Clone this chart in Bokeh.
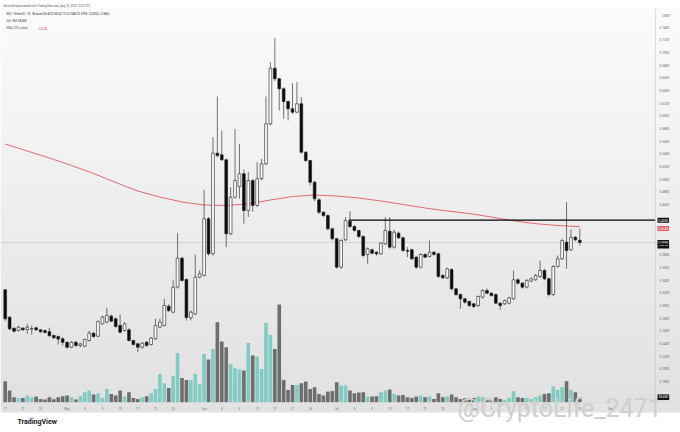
from datetime import date
import numpy as np
from bokeh.plotting import figure
from bokeh.models import (Range1d, FixedTicker, Label, BoxAnnotation,
                          ColumnDataSource, NumeralTickFormatter)
from bokeh.embed import file_html
from bokeh.resources import INLINE

# ---------------- data (NUI / TetherUS, 1D, Binance) ----------------
start_date = date(2025, 4, 17)

opens = [0.3250, 0.2817, 0.2643, 0.2606, 0.2643, 0.2622, 0.2630, 0.2649, 0.2617, 0.2606,
         0.2586, 0.2527, 0.2512, 0.2475, 0.2421, 0.2342, 0.2421, 0.2369, 0.2358, 0.2448,
         0.2564, 0.2516, 0.2712, 0.2738, 0.2833, 0.2791, 0.2685, 0.2606, 0.2617, 0.2448,
         0.2396, 0.2342, 0.2421, 0.2385, 0.2475, 0.2660, 0.2685, 0.2990, 0.2896, 0.3291,
         0.3749, 0.3412, 0.2807, 0.2870, 0.3449, 0.3476, 0.4372, 0.3819, 0.5409, 0.5383,
         0.5304, 0.4135, 0.4713, 0.4880, 0.5083, 0.4503, 0.4977, 0.4582, 0.5004, 0.5241,
         0.5873, 0.6752, 0.6585, 0.6427, 0.6226, 0.6110, 0.6057, 0.6189, 0.5424, 0.5293,
         0.4950, 0.4672, 0.4476, 0.4424, 0.4214, 0.4056, 0.3607, 0.4040, 0.4334, 0.4250,
         0.4187, 0.4092, 0.3807, 0.3882, 0.3844, 0.3818, 0.3976, 0.4176, 0.3923, 0.4144,
         0.4071, 0.3871, 0.3882, 0.3765, 0.3607, 0.3808, 0.3776, 0.3844, 0.3818, 0.3476,
         0.3439, 0.3570, 0.3265, 0.3175, 0.3107, 0.3065, 0.3028, 0.3001, 0.3133, 0.3238,
         0.3196, 0.3175, 0.3038, 0.3028, 0.3038, 0.3107, 0.3408, 0.3355, 0.3291, 0.3386,
         0.3408, 0.3460, 0.3555, 0.3424, 0.3175, 0.3618, 0.3740, 0.4002, 0.3882, 0.4081,
         0.4032]

highs = [0.3260, 0.2830, 0.2650, 0.2680, 0.2660, 0.2712, 0.2685, 0.2665, 0.2630, 0.2620,
         0.2650, 0.2540, 0.2525, 0.2500, 0.2430, 0.2435, 0.2440, 0.2410, 0.2480, 0.2600,
         0.2580, 0.2764, 0.2840, 0.2965, 0.2860, 0.2810, 0.2860, 0.2740, 0.2640, 0.2460,
         0.2410, 0.2420, 0.2440, 0.2500, 0.2791, 0.2790, 0.3107, 0.3020, 0.3408, 0.4144,
         0.3770, 0.3430, 0.2922, 0.3808, 0.3560, 0.4830, 0.4400, 0.5661, 0.6305, 0.5767,
         0.5320, 0.4871, 0.5794, 0.5557, 0.5150, 0.5109, 0.5000, 0.5267, 0.5320, 0.6305,
         0.6847, 0.7232, 0.6600, 0.6450, 0.6240, 0.6515, 0.6531, 0.6294, 0.5440, 0.5300,
         0.4970, 0.4700, 0.4490, 0.4440, 0.4230, 0.4070, 0.4050, 0.4397, 0.4492, 0.4270,
         0.4200, 0.4110, 0.3920, 0.3900, 0.3860, 0.4000, 0.4397, 0.4397, 0.4200, 0.4170,
         0.4090, 0.3923, 0.3900, 0.3780, 0.3830, 0.3830, 0.4029, 0.3860, 0.3840, 0.3500,
         0.3600, 0.3590, 0.3280, 0.3190, 0.3120, 0.3080, 0.3040, 0.3160, 0.3260, 0.3270,
         0.3210, 0.3190, 0.3050, 0.3095, 0.3140, 0.3555, 0.3430, 0.3370, 0.3420, 0.3450,
         0.3500, 0.3713, 0.3580, 0.3440, 0.3640, 0.3792, 0.4060, 0.4634, 0.4203, 0.4100,
         0.4213]

lows = [0.2760, 0.2610, 0.2579, 0.2590, 0.2600, 0.2554, 0.2543, 0.2600, 0.2570, 0.2560,
        0.2500, 0.2475, 0.2385, 0.2370, 0.2320, 0.2330, 0.2350, 0.2340, 0.2340, 0.2430,
        0.2495, 0.2500, 0.2700, 0.2720, 0.2740, 0.2650, 0.2560, 0.2590, 0.2430, 0.2370,
        0.2263, 0.2320, 0.2350, 0.2370, 0.2460, 0.2640, 0.2670, 0.2900, 0.2880, 0.3270,
        0.3380, 0.2764, 0.2764, 0.2850, 0.3430, 0.3460, 0.3790, 0.3790, 0.5340, 0.5290,
        0.3923, 0.4110, 0.4690, 0.4690, 0.4293, 0.4400, 0.4480, 0.4560, 0.4980, 0.5220,
        0.5850, 0.6550, 0.6083, 0.5952, 0.5925, 0.6030, 0.6040, 0.5400, 0.5270, 0.4900,
        0.4650, 0.4450, 0.4400, 0.4190, 0.4030, 0.3580, 0.3580, 0.4020, 0.4230, 0.4170,
        0.4070, 0.3770, 0.3660, 0.3810, 0.3790, 0.3800, 0.3960, 0.3900, 0.3900, 0.4050,
        0.3850, 0.3765, 0.3720, 0.3580, 0.3590, 0.3750, 0.3760, 0.3790, 0.3440, 0.3420,
        0.3420, 0.3240, 0.3150, 0.2949, 0.3030, 0.2980, 0.2960, 0.2980, 0.3110, 0.3180,
        0.3140, 0.3020, 0.2933, 0.3010, 0.3020, 0.3090, 0.3330, 0.3270, 0.3270, 0.3370,
        0.3390, 0.3440, 0.3400, 0.3144, 0.3150, 0.3600, 0.3720, 0.3581, 0.3860, 0.4020,
        0.3948]

closes = [0.2791, 0.2633, 0.2595, 0.2659, 0.2617, 0.2659, 0.2633, 0.2617, 0.2586, 0.2575,
          0.2527, 0.2490, 0.2470, 0.2421, 0.2342, 0.2421, 0.2369, 0.2395, 0.2464, 0.2564,
          0.2511, 0.2748, 0.2817, 0.2843, 0.2753, 0.2670, 0.2580, 0.2712, 0.2448, 0.2385,
          0.2342, 0.2406, 0.2369, 0.2485, 0.2685, 0.2740, 0.3001, 0.2922, 0.3291, 0.3749,
          0.3397, 0.2812, 0.2896, 0.3449, 0.3502, 0.4372, 0.3819, 0.5409, 0.5372, 0.5304,
          0.4135, 0.4713, 0.4977, 0.5083, 0.4503, 0.4977, 0.4582, 0.5004, 0.5241, 0.5873,
          0.6752, 0.6585, 0.6427, 0.6226, 0.6110, 0.6057, 0.6189, 0.5424, 0.5293, 0.4950,
          0.4688, 0.4476, 0.4424, 0.4214, 0.4056, 0.3607, 0.4029, 0.4345, 0.4250, 0.4187,
          0.4092, 0.3792, 0.3898, 0.3828, 0.3818, 0.3986, 0.4187, 0.3923, 0.4160, 0.4071,
          0.3871, 0.3860, 0.3740, 0.3607, 0.3808, 0.3765, 0.3844, 0.3808, 0.3460, 0.3439,
          0.3581, 0.3265, 0.3175, 0.3107, 0.3054, 0.3001, 0.2986, 0.3144, 0.3238, 0.3196,
          0.3160, 0.3038, 0.3001, 0.3080, 0.3123, 0.3408, 0.3355, 0.3291, 0.3397, 0.3424,
          0.3476, 0.3555, 0.3424, 0.3175, 0.3618, 0.3740, 0.4029, 0.3871, 0.4081, 0.4040,
          0.3998]

# volume in thousands
volumes = [162, 90, 38.5, 33, 33, 52, 38.5, 44, 25, 21,
           38.5, 23, 38.5, 46, 52, 38.5, 21, 46, 77, 90,
           59, 69, 33, 102, 64, 52, 90, 44, 77, 33,
           25, 38.5, 46, 69, 102, 218, 146, 110, 200, 380,
           187, 172, 169, 218, 139, 372, 329, 410, 616, 467,
           424, 295, 262, 254, 244, 457, 360, 352, 256, 611,
           518, 410, 752, 172, 95, 133, 133, 146, 159, 102,
           116, 64, 52, 82, 86, 154, 129, 129, 90, 69,
           75, 77, 44, 44, 46, 77, 90, 98, 64, 52,
           56, 38.5, 33, 44, 52, 38.5, 44, 25, 69, 38.5,
           44, 59, 38.5, 25, 31, 25, 33, 44, 38.5, 25,
           18, 38.5, 25, 18, 33, 85, 38.5, 33, 33, 25,
           38.5, 52, 64, 69, 121, 95, 116, 162, 95, 77,
           38.45]

# EMA(200, close), read every 5 sessions
ema_days = [0, 5, 10, 15, 20, 25, 30, 35, 40, 45, 50, 55, 60, 65, 70,
            75, 80, 85, 90, 95, 100, 105, 110, 115, 120, 125, 130]
ema_vals = [0.5554, 0.5443, 0.5333, 0.5214, 0.5088, 0.4946, 0.4811, 0.4716, 0.4637,
            0.4590, 0.4582, 0.4606, 0.4669, 0.4724, 0.4748, 0.4732, 0.4700, 0.4653,
            0.4598, 0.4542, 0.4495, 0.4455, 0.4400, 0.4340, 0.4294, 0.4266, 0.4248]

resistance = 0.4350
resistance_start = "2025-07-04"

x_tick_dates = ["2025-04-17", "2025-04-21", "2025-04-25", "2025-05-01", "2025-05-05",
                "2025-05-09", "2025-05-13", "2025-05-17", "2025-05-21", "2025-05-25",
                "2025-06-01", "2025-06-05", "2025-06-09", "2025-06-13", "2025-06-17",
                "2025-06-21", "2025-06-25", "2025-07-01", "2025-07-05", "2025-07-09",
                "2025-07-13", "2025-07-17", "2025-07-21", "2025-07-25", "2025-08-01",
                "2025-08-05", "2025-08-09", "2025-08-13", "2025-08-17", "2025-08-21",
                "2025-08-25", "2025-09-01"]

price_ticks = [0.18, 0.20, 0.22, 0.24, 0.26, 0.28, 0.30, 0.32, 0.34, 0.36, 0.38,
               0.46, 0.48, 0.50, 0.52, 0.54, 0.56, 0.58, 0.60, 0.62, 0.64, 0.66,
               0.68, 0.70, 0.72, 0.74]

# ---------------- layout / styling ----------------
FONT = "Roboto"
UP_VOL = "#82cbc2"
DN_VOL = "#6e6e6e"
EMA_COL = "#e0585f"

# chart pane and strips (in data units of the two scales)
X_MIN, X_MAX = -1.063, 152.78        # whole canvas width, in sessions
PANE_RIGHT = 147.1                   # left edge of the price scale strip
Y_MIN, Y_MAX = 0.0994, 0.7822        # whole canvas height, in price
PANE_TOP, PANE_BOTTOM = 0.7696, 0.1468
AXIS_BOTTOM = 0.1310                 # bottom of the time-scale strip
VOL_RANGE = (-233.0, 3093.0)

n = len(closes)
xs = list(range(n))
up = [c >= o for o, c in zip(opens, closes)]
src = ColumnDataSource(dict(
    x=xs, high=highs, low=lows, volume=volumes,
    top=list(np.maximum(opens, closes)), bottom=list(np.minimum(opens, closes)),
    body=["#ffffff" if u else "#0d0d0d" for u in up],
    vcol=[UP_VOL if u else DN_VOL for u in up],
))

p = figure(width=680, height=432, output_backend="svg", toolbar_location=None,
           x_range=Range1d(X_MIN, X_MAX), y_range=Range1d(Y_MIN, Y_MAX),
           y_axis_location="right", min_border=0, min_border_left=0,
           min_border_right=0, min_border_top=0, min_border_bottom=0)
p.extra_y_ranges = {"vol": Range1d(*VOL_RANGE)}
p.xgrid.visible = False
p.ygrid.visible = False
p.outline_line_color = None
p.border_fill_color = "#ffffff"
p.background_fill_color = "#ffffff"

# vertical background gradient of the pane (and price strip)
nb = 40
for i in range(nb):
    frac = (i + 0.5) / nb
    g = int(round(225 + (251 - 225) * frac))
    p.add_layout(BoxAnnotation(bottom=PANE_BOTTOM + (PANE_TOP - PANE_BOTTOM) * i / nb,
                               top=PANE_BOTTOM + (PANE_TOP - PANE_BOTTOM) * (i + 1.05) / nb,
                               fill_color=(g, g, g), fill_alpha=1.0,
                               line_color=None, level="underlay"))
# time-scale strip
p.add_layout(BoxAnnotation(bottom=AXIS_BOTTOM, top=PANE_BOTTOM, fill_color="#e2e2e2",
                           fill_alpha=1.0, line_color=None, level="underlay"))

# volume
p.vbar(x="x", top="volume", bottom=0, width=0.82, y_range_name="vol",
       fill_color="vcol", line_color=None, source=src)

# EMA and levels
p.line(ema_days, ema_vals, line_color=EMA_COL, line_width=0.9)
p.segment(x0=[X_MIN], y0=[closes[-1]], x1=[PANE_RIGHT], y1=[closes[-1]],
          line_color="#bdbdbd", line_width=0.6)
res_x = (date.fromisoformat(resistance_start) - start_date).days - 0.3
p.segment(x0=[res_x], y0=[resistance], x1=[PANE_RIGHT], y1=[resistance],
          line_color="#000000", line_width=1.2)

# candles
p.segment(x0="x", y0="high", x1="x", y1="low", line_color="#1a1a1a",
          line_width=0.6, source=src)
p.vbar(x="x", top="top", bottom="bottom", width=0.62, fill_color="body",
       line_color="#1a1a1a", line_width=0.6, source=src)

# borders of the price strip and the time strip
p.segment(x0=[PANE_RIGHT], y0=[PANE_TOP], x1=[PANE_RIGHT], y1=[AXIS_BOTTOM],
          line_color="#c4c4c4", line_width=0.6)
p.segment(x0=[X_MIN], y0=[PANE_BOTTOM], x1=[X_MAX], y1=[PANE_BOTTOM],
          line_color="#d2d2d2", line_width=0.6)

# price axis (labels drawn inward into the price strip)
ya = p.yaxis[0]
ya.ticker = FixedTicker(ticks=price_ticks)
ya.formatter = NumeralTickFormatter(format="0.0000")
ya.major_label_text_font = FONT
ya.major_label_text_font_size = "3.2px"
ya.major_label_text_color = "#6a6a6a"
ya.major_tick_line_color = None
ya.minor_tick_line_color = None
ya.major_tick_out = 0
ya.major_tick_in = 0
ya.major_label_standoff = -21
ya.axis_line_color = None

# time axis (labels drawn inward into the time strip)
tick_pos, tick_lab = [], {}
for s in x_tick_dates:
    d = date.fromisoformat(s)
    pos = (d - start_date).days
    tick_pos.append(pos)
    tick_lab[pos] = d.strftime("%b") if d.day == 1 else str(d.day)
xa = p.xaxis[0]
xa.ticker = FixedTicker(ticks=tick_pos)
xa.major_label_overrides = tick_lab
xa.major_label_text_font = FONT
xa.major_label_text_font_size = "3.1px"
xa.major_label_text_color = "#6a6a6a"
xa.major_tick_line_color = None
xa.minor_tick_line_color = None
xa.major_tick_out = 0
xa.major_tick_in = 0
xa.major_label_standoff = -26
xa.axis_line_color = None

# header texts
def hdr(text, sx, sy, color="#333333", size="2.8px", style="normal"):
    p.add_layout(Label(x=sx, y=sy, x_units="screen", y_units="screen", text=text,
                       text_font=FONT, text_font_size=size, text_color=color,
                       text_baseline="middle", text_font_style=style))

chg = closes[-1] - opens[-1]
ohlc_text = ("NUI / TetherUS · 1D · Binance   O%.4f  H%.4f  L%.4f  C%.4f  %+.4f (%+.2f%%)"
             % (opens[-1], highs[-1], lows[-1], closes[-1], chg, chg / opens[-1] * 100))
hdr("AltcoinSherpa created with TradingView.com, Aug 25, 2025 13:02 UTC", 3, 427, "#555555")
hdr(ohlc_text.replace("-", "−"), 6, 418.5)
hdr("Vol · NUI   %.2fK" % volumes[-1], 6, 411.5)
hdr("EMA (200, close)", 6, 404.5, "#555555")
hdr("%.4f" % ema_vals[-1], 38, 404.5, EMA_COL)
hdr("USDT", 662, 417, "#555555", "3.1px")

# price-scale tags
def tag(text, y, bg, range_name="default", size="3.1px"):
    p.add_layout(Label(x=657.0, y=y, x_units="screen", y_units="data",
                       y_range_name=range_name, text=text, text_font=FONT,
                       text_font_size=size, text_color="#ffffff",
                       text_baseline="middle", background_fill_color=bg,
                       background_fill_alpha=1.0, padding=1))

tag("%.4f" % resistance, resistance, "#111111")
tag("%.4f" % ema_vals[-1], ema_vals[-1] - 0.003, EMA_COL)
tag("%.4f" % closes[-1], closes[-1], "#111111")
tag("10:57:53", closes[-1] - 0.0055, "#111111", size="2.5px")
tag("%.2fK" % volumes[-1], volumes[-1], "#111111", range_name="vol")

# watermark and footer
hdr("@CryptoLife_2471", 457, 24, "#cfcfcf", "25px")
hdr("TradingView", 17, 11, "#131722", "7px", "bold")

open("out.html", "w").write(file_html(p, INLINE))
